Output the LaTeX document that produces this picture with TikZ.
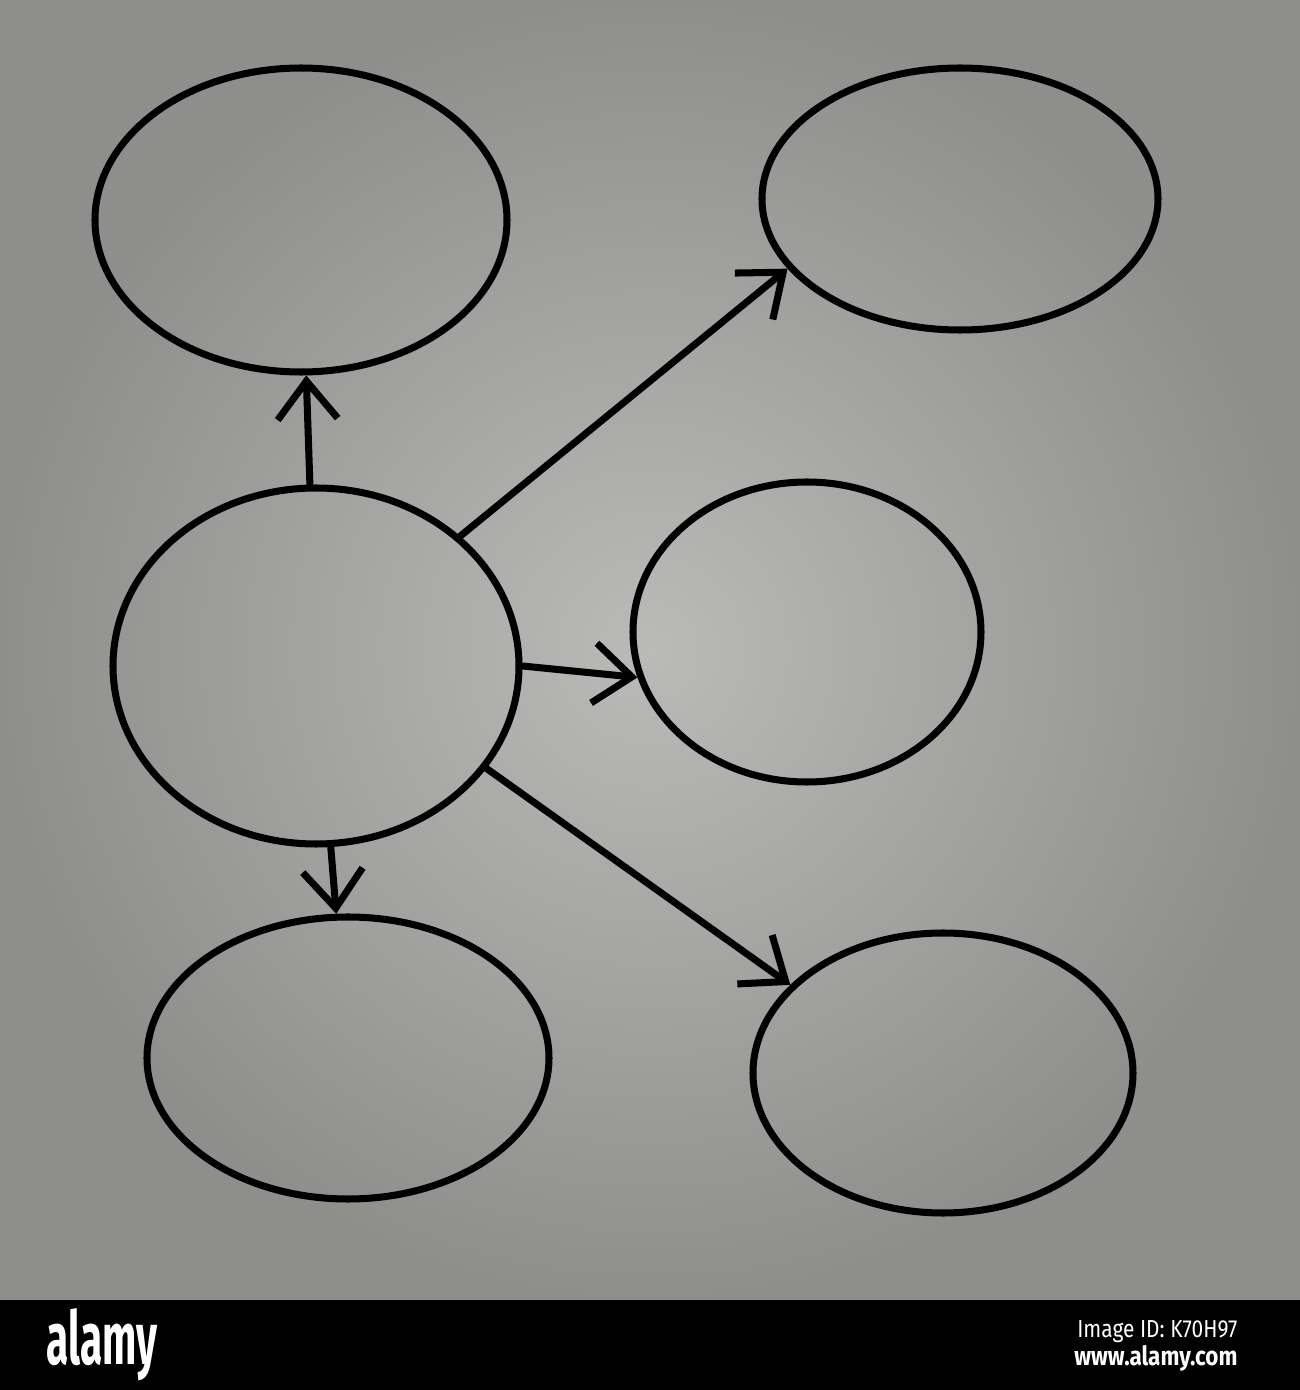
\documentclass[tikz,border=0pt]{standalone}
\usepackage{fontspec}
\setsansfont{Fira Sans}
\usetikzlibrary{shapes.geometric,arrows.meta}
\definecolor{wallgray}{RGB}{186,186,184}
\definecolor{walledge}{RGB}{142,142,140}
\begin{document}
\begin{tikzpicture}[scale=1,
    bubble/.style={ellipse,draw=black,line width=2pt,inner sep=0pt},
    link/.style={line width=2pt,line cap=round,-{Straight Barb[length=0.38cm,width=0.6cm,line width=2pt]}}]
    \useasboundingbox (0,0) rectangle (13,13.9);
    \shade[inner color=wallgray,outer color=walledge] (0,0.9) rectangle (13,13.9);
    \fill[black] (0,0) rectangle (13,0.9);
    \node[white,font=\sffamily\bfseries\fontsize{21}{21}\selectfont,xscale=0.55] (logo) at (1.02,0.45) {alamy};
    \node[white,font=\sffamily\fontsize{7}{7}\selectfont,xscale=0.85,anchor=east] (imgid) at (12.48,0.58) {Image ID: K70H97};
    \node[white,font=\sffamily\bfseries\fontsize{7.5}{7.5}\selectfont,xscale=0.85,anchor=east] (www) at (12.48,0.32) {www.alamy.com};
    \node[bubble,minimum width=4.12cm,minimum height=3.04cm] (tl) at (3.01,11.70) {};
    \node[bubble,minimum width=3.96cm,minimum height=2.62cm] (tr) at (9.60,11.91) {};
    \node[bubble,minimum width=4.06cm,minimum height=3.56cm] (hub) at (3.16,7.24) {};
    \node[bubble,minimum width=3.48cm,minimum height=3.00cm] (mr) at (8.07,7.58) {};
    \node[bubble,minimum width=4.02cm,minimum height=2.82cm] (bl) at (3.48,3.32) {};
    \node[bubble,minimum width=3.80cm,minimum height=2.80cm] (br) at (9.43,3.17) {};
    \draw[link] (hub) -- (tl);
    \draw[link] (hub.42) -- (tr.202);
    \draw[link] (hub.east) -- (mr.195);
    \draw[link] (hub) -- (bl);
    \draw[link] (hub.-31) -- (br.150);
\end{tikzpicture}
\end{document}
